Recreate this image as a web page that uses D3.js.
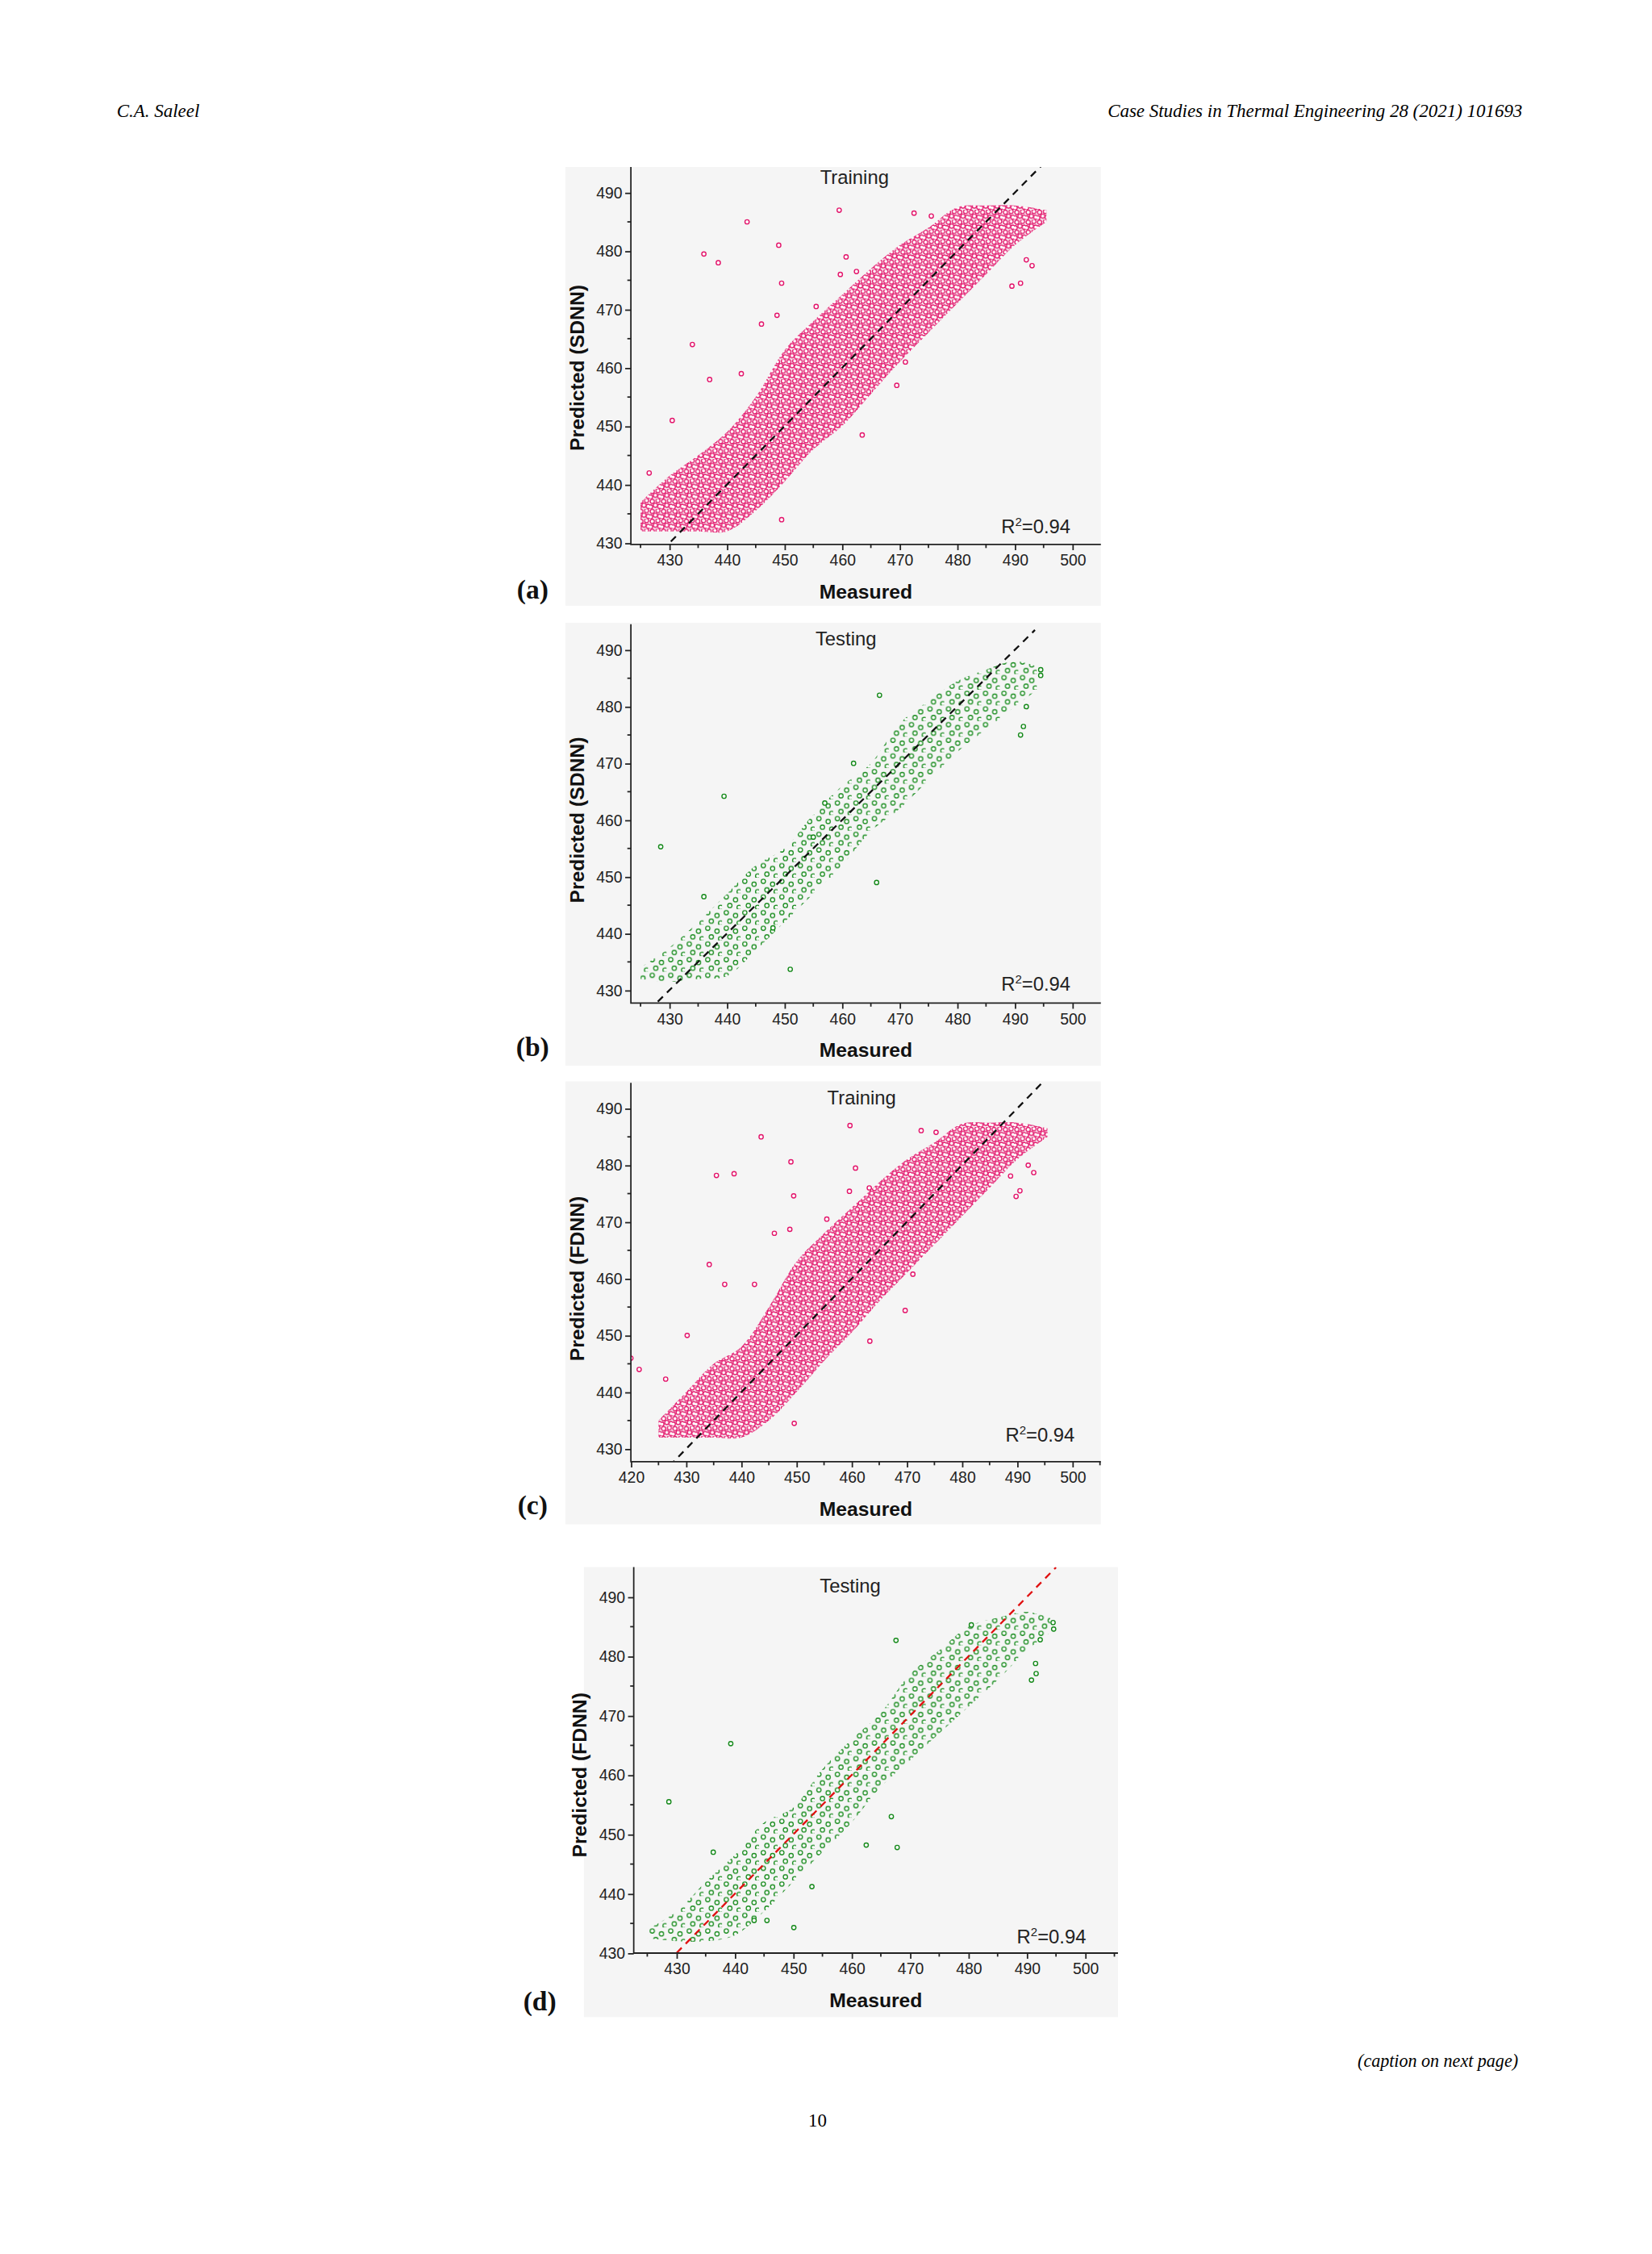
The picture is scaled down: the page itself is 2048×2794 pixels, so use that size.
<!DOCTYPE html>
<html>
<head>
<meta charset="utf-8">
<script src="https://cdn.jsdelivr.net/npm/d3@7"></script>
<style>
  * { margin: 0; padding: 0; }
  body { background: #fff; }
</style>
</head>
<body>
<div id="page"></div>
<script>
// ---- data ----
const xTicks = [430, 440, 450, 460, 470, 480, 490, 500];
const xTicksC = [420, 430, 440, 450, 460, 470, 480, 490, 500];
const yTicks = [430, 440, 450, 460, 470, 480, 490];

// dense point cloud envelope: measured, lower predicted, upper predicted
const bandA = [[425,432,437],[430,432,441.5],[435,432,445],[440,432,449],[445,435.5,455],[450,440.5,463],[455,446,468],[460,450,472.5],[465,455.5,477],[470,461,481],[475,466,484],[480,471,487.5],[485,476,487.8],[490,481,487.8],[495.5,485,487]];
const bandB = [[425,432,434],[430,431.5,437.5],[435,432,442],[440,432.5,447],[445,437,452],[450,442,455],[455,447,461],[460,452,466],[465,458,470],[470,462,477],[475,467,481],[480,472,484.5],[485,476,486.5],[490,480,488],[494,483,487]];
const bandC = [[425,432,435],[430,432,440],[435,432,445],[440,432,448],[445,435,455],[450,440,463],[455,445.5,468],[460,450.5,472.5],[465,456,477],[470,461,481],[475,466,484],[480,471,487.3],[485,476,487.5],[490,481,487.5],[495.5,485,486.5]];
const bandD = [[425,432.5,434],[430,432,437],[435,432,442],[440,433,446.5],[445,437,452],[450,442,454.5],[455,447,461],[460,452,466],[465,458,470.5],[470,462.5,477],[475,467,481],[480,471.5,485],[485,476,486.5],[490,481,487.5],[494,484,486.5]];

const outA = [[436,479.5],[438.5,478],[443.5,485],[449,481],[449.5,474.5],[459.5,487],[472.5,486.5],[475.5,486],[434,464],[437,458],[442.5,459],[430.5,451],[426.5,442],[446,467.5],[448.7,469],[455.5,470.5],[449.5,434],[463.5,448.5],[469.5,457],[471,461],[492,478.5],[493,477.5],[489.5,474],[491,474.5],[460.7,479],[462.5,476.5],[459.7,476]];
const outB = [[428.5,455.3],[439.5,464.2],[436,446.5],[451,433.7],[448,441],[466,449],[466.5,482],[491,475],[491.5,476.5],[494.5,485.5],[494.5,486.5],[492,480],[462,470],[455,457],[457,463]];
const outC = [[420,446],[421.5,444],[426.3,442.3],[430.2,450],[434.2,462.5],[435.5,478.2],[438.7,478.5],[437,459],[442.4,459],[443.6,485],[446,468],[448.8,468.7],[449,480.6],[449.5,474.6],[459.7,487],[459.6,475.4],[460.7,479.5],[463.2,476],[455.5,470.5],[463.3,449],[469.7,454.4],[471.1,460.8],[472.6,486.1],[475.3,485.8],[449.6,434.5],[489.8,474.5],[490.5,475.5],[492,480],[493,478.7],[488.8,478.1]];
const outD = [[428.7,455.5],[439.3,465.3],[436.3,447],[450.1,434.3],[453.2,441.2],[462.5,448.2],[467.8,447.8],[466.8,453],[467.6,482.7],[480.5,485.3],[490.8,476],[491.6,477.1],[491.5,478.8],[492.3,482.8],[494.5,485.7],[494.6,484.6],[445.5,435.5],[443.3,435.5]];

const fitA = [428.7, 495.5], fitB = [428, 493.5], fitC = [427, 495.5], fitD = [428.5, 495];

// ---- layout (page units, 1160 wide, scaled to 2048 px) ----
const W = 1160, H = 1582;
const svg = d3.select("#page").append("svg")
  .attr("width", 2048).attr("height", 2794)
  .attr("viewBox", `0 0 ${W} ${H}`)
  .style("font-family", "'Liberation Sans', Arial, sans-serif");

const defs = svg.append("defs");
function makePattern(id, w, h, pts, color, r) {
  const p = defs.append("pattern").attr("id", id)
    .attr("patternUnits", "userSpaceOnUse").attr("width", w).attr("height", h);
  pts.forEach(q => p.append("circle").attr("cx", q[0]).attr("cy", q[1]).attr("r", r)
    .attr("fill", "#fff").attr("stroke", color).attr("stroke-width", 0.75));
}
const pink = "#e3156b", green = "#178a1c";
makePattern("pinkDots", 8, 7, [[2,1.8],[6,1.2],[4.2,4.5],[0.8,5.6],[7.2,5.2]], pink, 1.45);
makePattern("greenDots", 13, 11, [[3,2.5],[9.5,4.5],[5.5,8.5],[12,9.8]], green, 1.5);

const panels = [
  {label:"(a)", lx:374, ly:420, bg:[397,117,773,425], xd:[430,500], xr:[470,753], ax:[443,773],
   yr:[381,135], ay:[382,117], xt:xTicks, band:bandA, out:outA, fit:fitA, pat:"pinkDots", col:pink,
   title:"Training", tx:600, ty:129, r2x:703, r2y:374, yl:"Predicted (SDNN)", line:"#111"},
  {label:"(b)", lx:374, ly:741, bg:[397,437,773,748], xd:[430,500], xr:[470,753], ax:[443,773],
   yr:[695,456], ay:[704,438], xt:xTicks, band:bandB, out:outB, fit:fitB, pat:"greenDots", col:green,
   title:"Testing", tx:594, ty:453, r2x:703, r2y:695, yl:"Predicted (SDNN)", line:"#111"},
  {label:"(c)", lx:374, ly:1063, bg:[397,759,773,1070], xd:[420,500], xr:[443,753], ax:[443,773],
   yr:[1017,778], ay:[1026,760], xt:xTicksC, band:bandC, out:outC, fit:fitC, pat:"pinkDots", col:pink,
   title:"Training", tx:605, ty:775, r2x:706, r2y:1012, yl:"Predicted (FDNN)", line:"#111"},
  {label:"(d)", lx:379, ly:1411, bg:[410,1100,785,1416], xd:[430,500], xr:[475,762], ax:[445,785],
   yr:[1371,1121], ay:[1371,1100], xt:xTicks, band:bandD, out:outD, fit:fitD, pat:"greenDots", col:green,
   title:"Testing", tx:597, ty:1118, r2x:714, r2y:1364, yl:"Predicted (FDNN)", line:"#e01010"}
];

panels.forEach(p => {
  const g = svg.append("g");
  g.append("rect").attr("x", p.bg[0]).attr("y", p.bg[1])
    .attr("width", p.bg[2]-p.bg[0]).attr("height", p.bg[3]-p.bg[1]).attr("fill", "#f5f5f5");

  const x = d3.scaleLinear().domain(p.xd).range(p.xr);
  const y = d3.scaleLinear().domain([430, 490]).range(p.yr);
  const clipId = "clip" + p.label.replace(/\W/g, "");
  g.append("clipPath").attr("id", clipId).append("rect")
    .attr("x", p.ax[0]).attr("y", p.ay[1]).attr("width", p.ax[1]-p.ax[0]).attr("height", p.ay[0]-p.ay[1]);
  const plot = g.append("g").attr("clip-path", `url(#${clipId})`);

  const area = d3.area().x(d => x(d[0])).y0(d => y(d[1])).y1(d => y(d[2])).curve(d3.curveCatmullRom);
  plot.append("path").datum(p.band).attr("d", area).attr("fill", `url(#${p.pat})`);
  plot.selectAll(".out").data(p.out).join("circle")
    .attr("cx", d => x(d[0])).attr("cy", d => y(d[1])).attr("r", 1.5)
    .attr("fill", "#fff").attr("stroke", p.col).attr("stroke-width", 0.8);
  plot.append("line")
    .attr("x1", x(p.fit[0])).attr("y1", y(p.fit[0]))
    .attr("x2", x(p.fit[1])).attr("y2", y(p.fit[1]))
    .attr("stroke", p.line).attr("stroke-width", 1.3).attr("stroke-dasharray", "5,4");

  // axes
  const xa = g.append("g").attr("transform", `translate(0,${p.ay[0]})`)
    .call(d3.axisBottom(x).tickValues(p.xt).tickSize(4).tickPadding(3).tickFormat(d3.format("d")));
  const ya = g.append("g").attr("transform", `translate(${p.ax[0]},0)`)
    .call(d3.axisLeft(y).tickValues(yTicks).tickSize(4).tickPadding(2).tickFormat(d3.format("d")));
  [xa, ya].forEach(a => {
    a.select(".domain").remove();
    a.selectAll("text").style("font-size", "11px").attr("fill", "#222");
    a.selectAll("line").attr("stroke", "#222");
  });
  const xMinor = d3.range(p.xd[0] - 5, 506, 5).filter(v => x(v) > p.ax[0] && x(v) < p.ax[1] && v % 10 !== 0);
  g.selectAll(".xm").data(xMinor).join("line")
    .attr("x1", d => x(d)).attr("x2", d => x(d)).attr("y1", p.ay[0]).attr("y2", p.ay[0] + 2.5).attr("stroke", "#222");
  g.selectAll(".ym").data([435, 445, 455, 465, 475, 485]).join("line")
    .attr("x1", p.ax[0]).attr("x2", p.ax[0] - 2.5).attr("y1", d => y(d)).attr("y2", d => y(d)).attr("stroke", "#222");
  g.append("path").attr("d", `M${p.ax[0]},${p.ay[1]}V${p.ay[0]}H${p.ax[1]}`)
    .attr("fill", "none").attr("stroke", "#222").attr("stroke-width", 1);

  // texts
  g.append("text").attr("x", p.tx).attr("y", p.ty).attr("text-anchor", "middle")
    .style("font-size", "13.5px").attr("fill", "#222").text(p.title);
  const r2 = g.append("text").attr("x", p.r2x).attr("y", p.r2y)
    .style("font-size", "13.5px").attr("fill", "#222");
  r2.append("tspan").text("R");
  r2.append("tspan").attr("dy", -5).style("font-size", "8.5px").text("2");
  r2.append("tspan").attr("dy", 5).text("=0.94");
  g.append("text").attr("x", (p.ax[0] + p.ax[1]) / 2).attr("y", p.ay[0] + 38).attr("text-anchor", "middle")
    .style("font-size", "14px").style("font-weight", "bold").attr("fill", "#111").text("Measured");
  const ymid = (p.yr[0] + p.yr[1]) / 2;
  g.append("text").attr("transform", `translate(${p.ax[0] - 33},${ymid}) rotate(-90)`).attr("text-anchor", "middle")
    .style("font-size", "14px").style("font-weight", "bold").attr("fill", "#111").text(p.yl);
  g.append("text").attr("x", p.lx).attr("y", p.ly).attr("text-anchor", "middle")
    .style("font-family", "'Liberation Serif', 'Times New Roman', serif")
    .style("font-size", "19px").style("font-weight", "bold").attr("fill", "#111").text(p.label);
});

// page furniture
const serif = "'Liberation Serif', 'Times New Roman', serif";
svg.append("text").attr("x", 82).attr("y", 82).style("font-family", serif).style("font-style", "italic")
  .style("font-size", "13px").text("C.A. Saleel");
svg.append("text").attr("x", 1069).attr("y", 82).attr("text-anchor", "end").style("font-family", serif)
  .style("font-style", "italic").style("font-size", "13px").text("Case Studies in Thermal Engineering 28 (2021) 101693");
svg.append("text").attr("x", 1066).attr("y", 1451).attr("text-anchor", "end").style("font-family", serif)
  .style("font-style", "italic").style("font-size", "12.5px").text("(caption on next page)");
svg.append("text").attr("x", 574).attr("y", 1493).attr("text-anchor", "middle").style("font-family", serif)
  .style("font-size", "13px").text("10");
</script>
</body>
</html>
